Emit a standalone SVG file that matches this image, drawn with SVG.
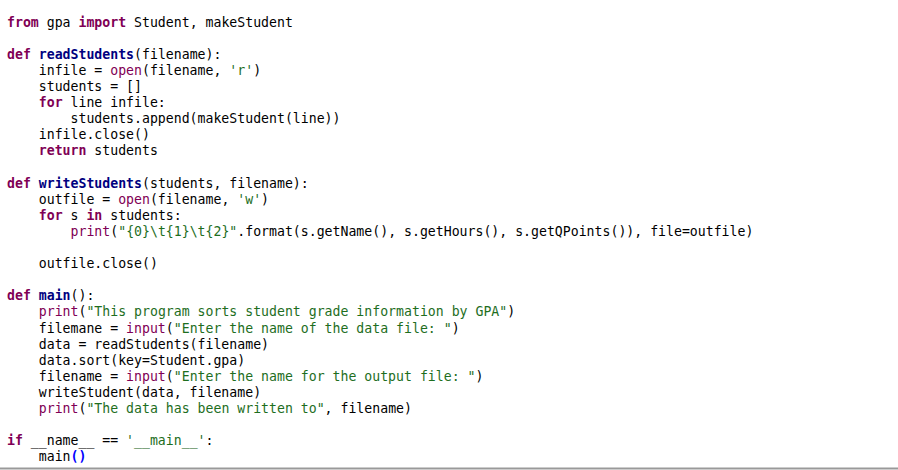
<svg xmlns="http://www.w3.org/2000/svg" width="898" height="470" viewBox="0 0 898 470">
<style>
text{font-family:"DejaVu Sans Mono",monospace;font-size:13.2px;fill:#000;white-space:pre}
.k{fill:#7f0055;font-weight:bold}
.b{fill:#7f0055}
.f{fill:#000080;font-weight:bold}
.s{fill:#1e6e1e}
.p{fill:#0000ff;font-weight:bold}
</style>
<rect width="898" height="470" fill="#fff"/>
<g id="code" xml:space="preserve">
<text x="7" y="27"><tspan class="k">from</tspan> gpa <tspan class="k">import</tspan> Student, makeStudent</text>
<text x="7" y="59"><tspan class="k">def</tspan> <tspan class="f">readStudents</tspan>(filename):</text>
<text x="7" y="75">    infile = <tspan class="b">open</tspan>(filename, <tspan class="s">'r'</tspan>)</text>
<text x="7" y="91">    students = []</text>
<text x="7" y="107">    <tspan class="k">for</tspan> line infile:</text>
<text x="7" y="123">        students.append(makeStudent(line))</text>
<text x="7" y="139">    infile.close()</text>
<text x="7" y="155">    <tspan class="k">return</tspan> students</text>
<text x="7" y="187.5"><tspan class="k">def</tspan> <tspan class="f">writeStudents</tspan>(students, filename):</text>
<text x="7" y="203.5">    outfile = <tspan class="b">open</tspan>(filename, <tspan class="s">'w'</tspan>)</text>
<text x="7" y="219.5">    <tspan class="k">for</tspan> s <tspan class="k">in</tspan> students:</text>
<text x="7" y="235.5">        <tspan class="b">print</tspan>(<tspan class="s">"{0}\t{1}\t{2}"</tspan>.format(s.getName(), s.getHours(), s.getQPoints()), file=outfile)</text>
<text x="7" y="268">    outfile.close()</text>
<text x="7" y="300">    <tspan x="7" class="k">def</tspan> <tspan class="f">main</tspan>():</text>
<text x="7" y="316">    <tspan class="b">print</tspan>(<tspan class="s">"This program sorts student grade information by GPA"</tspan>)</text>
<text x="7" y="332.5">    filemane = <tspan class="b">input</tspan>(<tspan class="s">"Enter the name of the data file: "</tspan>)</text>
<text x="7" y="348.5">    data = readStudents(filename)</text>
<text x="7" y="364.5">    data.sort(key=Student.gpa)</text>
<text x="7" y="380.5">    filename = <tspan class="b">input</tspan>(<tspan class="s">"Enter the name for the output file: "</tspan>)</text>
<text x="7" y="396.5">    writeStudent(data, filename)</text>
<text x="7" y="412.5">    <tspan class="b">print</tspan>(<tspan class="s">"The data has been written to"</tspan>, filename)</text>
<text x="7" y="444.5"><tspan class="k">if</tspan> __name__ == <tspan class="s">'__main__'</tspan>:</text>
<text x="7" y="460.5">    main<tspan class="p">()</tspan></text>
</g>
<line x1="0" y1="468.5" x2="898" y2="468.5" stroke="#999" stroke-width="2"/>
</svg>
